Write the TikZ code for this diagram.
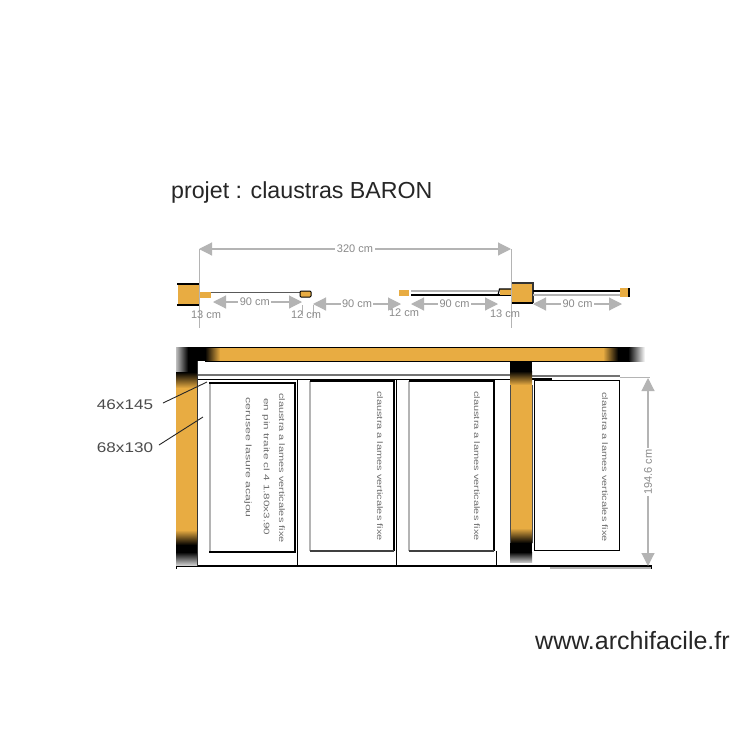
\documentclass[tikz,border=0pt]{standalone}
\usepackage{fontspec}
\usepackage{graphicx}
\setmainfont{Liberation Sans}
\usetikzlibrary{arrows.meta}
\definecolor{wood}{HTML}{E8AC42}
\definecolor{dimgray}{HTML}{B4B4B4}
\definecolor{dimtext}{HTML}{8A8A8A}
\definecolor{paneltext}{HTML}{707070}
\tikzset{
  x=1pt,y=-1pt,
  dimline/.style={draw=dimgray,line width=1.1pt,{Triangle[length=13pt,width=13pt]}-{Triangle[length=13pt,width=13pt]}},
  extline/.style={draw=dimgray,line width=1pt},
  dimlabel/.style={fill=white,inner sep=1.5pt,text=dimtext,font=\fontsize{11}{12}\selectfont},
  freelabel/.style={inner sep=0pt,text=dimtext,font=\fontsize{11}{12}\selectfont},
  panellabel/.style={inner sep=0pt,rotate=-90,text=paneltext,font=\fontsize{8}{9}\selectfont},
  woodbox/.style={fill=wood},
  heavy/.style={draw=black,line width=1.6pt},
  lightrule/.style={draw=dimgray,line width=1.6pt},
  midrule/.style={draw=black!55,line width=1.3pt},
  leader/.style={draw=black!85,line width=.9pt},
  sizelabel/.style={inner sep=0pt,text=black!70,font=\fontsize{14}{16}\selectfont}
}
\newcommand{\pl}[1]{\scalebox{1.37}[1]{#1}}
\newcommand{\plb}[1]{\scalebox{1.46}[1]{#1}}
\newcommand{\plc}[1]{\scalebox{1.54}[1]{#1}}
\newcommand{\sz}[1]{\scalebox{1.22}[1]{#1}}
\begin{document}
\begin{tikzpicture}
\useasboundingbox[fill=white] (0,0) rectangle (750,750);

% title
\node[anchor=west,inner sep=0pt,font=\fontsize{23.2}{26}\selectfont,text=black!85] (title) at (171,192) {projet : claustras BARON};
\node[anchor=west,inner sep=0pt,font=\fontsize{25}{28}\selectfont,text=black!85] (web) at (535,641) {www.archifacile.fr};

% section view, extension lines
\coordinate (ext1a) at (199,249); \coordinate (ext1b) at (199,328);
\coordinate (ext2a) at (511,249); \coordinate (ext2b) at (511,328);
\draw[extline] (ext1a) -- (ext1b);
\draw[extline] (ext2a) -- (ext2b);
\coordinate (t1) at (302,305); \coordinate (t2) at (302,316);
\coordinate (t3) at (313,305); \coordinate (t4) at (313,316);
\draw[extline,line width=.7pt] (t1) -- (t2);
\draw[extline,line width=.7pt] (t3) -- (t4);

% section view, members
\fill[woodbox] (178,284) rectangle (199,305);
\draw[black,line width=1.4pt] (177,284) -- (199,284);
\draw[black,line width=1.2pt] (177,305) -- (199,305);
\fill[woodbox] (200,292) rectangle (211,298);
\draw[black!65,line width=1.2pt] (211,292.5) -- (300,292.5);
\draw[black,line width=1pt,fill=wood,rounded corners=1pt] (300,291) rectangle (311,297);
\fill[woodbox] (399,290) rectangle (409,296);
\draw[dimgray,line width=1.2pt] (411,291) -- (498,291);
\draw[black,line width=1.4pt] (411,295) -- (511,295);
\fill[woodbox] (500,289) rectangle (511,295);
\draw[black,line width=1.2pt] (498,295) -- (499.5,289) -- (511,289);
\fill[woodbox] (512,283) rectangle (533,303);
\draw[black!80,line width=1.1pt] (512,283) -- (533,283) -- (533,303);
\draw[black,line width=1.2pt] (512,303) -- (533,303);
\draw[black,line width=1.4pt] (533,291) -- (620,291);
\draw[dimgray,line width=1.2pt] (533,295) -- (620,295);
\fill[woodbox] (620,288) rectangle (629,297);
\draw[black,line width=1.2pt] (629,288) -- (629,297);

% section view, dimensions
\coordinate (d0a) at (199,249); \coordinate (d0b) at (511,249);
\draw[dimline] (d0a) -- node[dimlabel,pos=.5] (d0t) {320 cm} (d0b);
\coordinate (d1a) at (213,302); \coordinate (d1b) at (302,302);
\draw[dimline] (d1a) -- node[dimlabel,pos=.47] (d1t) {90 cm} (d1b);
\coordinate (d2a) at (313,304); \coordinate (d2b) at (401,304);
\draw[dimline] (d2a) -- node[dimlabel] (d2t) {90 cm} (d2b);
\coordinate (d3a) at (411,304); \coordinate (d3b) at (498,304);
\draw[dimline] (d3a) -- node[dimlabel] (d3t) {90 cm} (d3b);
\coordinate (d4a) at (533,304); \coordinate (d4b) at (622,304);
\draw[dimline] (d4a) -- node[dimlabel] (d4t) {90 cm} (d4b);
\node[freelabel] (e1) at (206,315) {13 cm};
\node[freelabel] (e2) at (306,315) {12 cm};
\node[freelabel] (e3) at (404,313) {12 cm};
\node[freelabel] (e4) at (505,314) {13 cm};

% elevation, rails
\draw[midrule] (197,375) -- (510,375);
\draw[black,line width=1.5pt] (197,379.5) -- (510,379.5);
\draw[midrule] (532,376) -- (620,376);
\draw[black,line width=1.2pt] (532,379) -- (552,379);
\draw[black,line width=1.2pt] (176,566) -- (652,566);
\draw[dimgray,line width=1.2pt] (550,568) -- (651,568);
\draw[black,line width=1.2pt] (176.5,566) -- (176.5,569);
\draw[black,line width=1.2pt] (651.5,566) -- (651.5,569);

% elevation, uprights between panels
\draw[black,line width=1pt] (297,380) -- (297,566);
\draw[black,line width=1pt] (396,380) -- (396,566);
\draw[black,line width=1pt] (496,551) -- (496,566);

% panels
\draw[lightrule] (210,383) -- (210,552);
\draw[heavy] (209,383) -- (295,383) -- (295,552) -- (209,552);
\draw[lightrule] (310,381) -- (310,551);
\draw[heavy] (310,381) -- (394,381) -- (394,551);
\draw[black!75,line width=2pt] (310,551) -- (394,551);
\draw[lightrule] (409,381) -- (409,551);
\draw[heavy] (409,381) -- (494,381) -- (494,551);
\draw[black!75,line width=2pt] (409,551) -- (494,551);
\draw[black,line width=.9pt] (534,380) rectangle (619,550);

% beam and posts with fading ends
\fill[wood] (220,347) rectangle (603,361);
\fill[left color=black,right color=wood] (205,347) rectangle (220,361);
\fill[black] (195,347) rectangle (205,361);
\fill[left color=wood,right color=black] (603,347) rectangle (618,361);
\fill[black] (618,347) rectangle (628,361);
\fill[left color=black,right color=white] (628,347) rectangle (645,361);
\draw[black,line width=1pt] (205,347.5) -- (630,347.5);
\draw[black,line width=1pt] (205,361) -- (630,361);

\fill[left color=black!25,right color=black] (176,347) rectangle (188,372);
\fill[black] (188,347) rectangle (197,372);
\fill[black] (196,347) rectangle (206,361);
\fill[top color=black,bottom color=wood] (176,372) rectangle (197,388);
\fill[wood] (176,388) rectangle (197,530);
\fill[top color=wood,bottom color=black] (176,530) rectangle (197,545);
\fill[black] (176,545) rectangle (197,552);
\fill[top color=black,bottom color=black!20] (176,552) rectangle (197,565);
\draw[black!80,line width=.8pt] (197.5,361) -- (197.5,566);

\fill[black] (510,361) rectangle (532,371);
\fill[top color=black,bottom color=wood] (510,371) rectangle (532,385);
\fill[wood] (510,385) rectangle (532,528);
\fill[top color=wood,bottom color=black] (510,528) rectangle (532,543);
\fill[black] (510,543) rectangle (532,552);
\fill[top color=black,bottom color=black!25] (510,552) rectangle (532,562);
\draw[black!70,line width=.6pt] (510,385) -- (510,543);
\draw[black!70,line width=.6pt] (532,385) -- (532,543);

% panel captions
\node[panellabel] (p1a) at (282,468) {\pl{claustra a lames verticales fixe}};
\node[panellabel] (p1b) at (266,467) {\plb{en pin traite cl 4  1.80x3.90}};
\node[panellabel] (p1c) at (248,457.5) {\plc{cerusee lasure acajou}};
\node[panellabel] (p2) at (380,466) {\pl{claustra a lames verticales fixe}};
\node[panellabel] (p3) at (477,466) {\pl{claustra a lames verticales fixe}};
\node[panellabel] (p4) at (605,467) {\pl{claustra a lames verticales fixe}};

% height dimension
\coordinate (h0) at (620,377); \coordinate (h1) at (650,377);
\draw[extline] (h0) -- (h1);
\coordinate (ha) at (648,378); \coordinate (hb) at (648,566);
\draw[dimline] (ha) -- node[dimlabel,pos=.5,rotate=90] (ht) {194.6 cm} (hb);

% member size labels
\node[sizelabel] (s1) at (125,405) {\sz{46x145}};
\node[sizelabel] (s2) at (125,448) {\sz{68x130}};
\coordinate (s1end) at (207,382); \coordinate (s1start) at (163,403);
\coordinate (s2end) at (203,417); \coordinate (s2start) at (159,445);
\draw[leader] (s1start) -- (s1end);
\draw[leader] (s2start) -- (s2end);
\end{tikzpicture}
\end{document}
